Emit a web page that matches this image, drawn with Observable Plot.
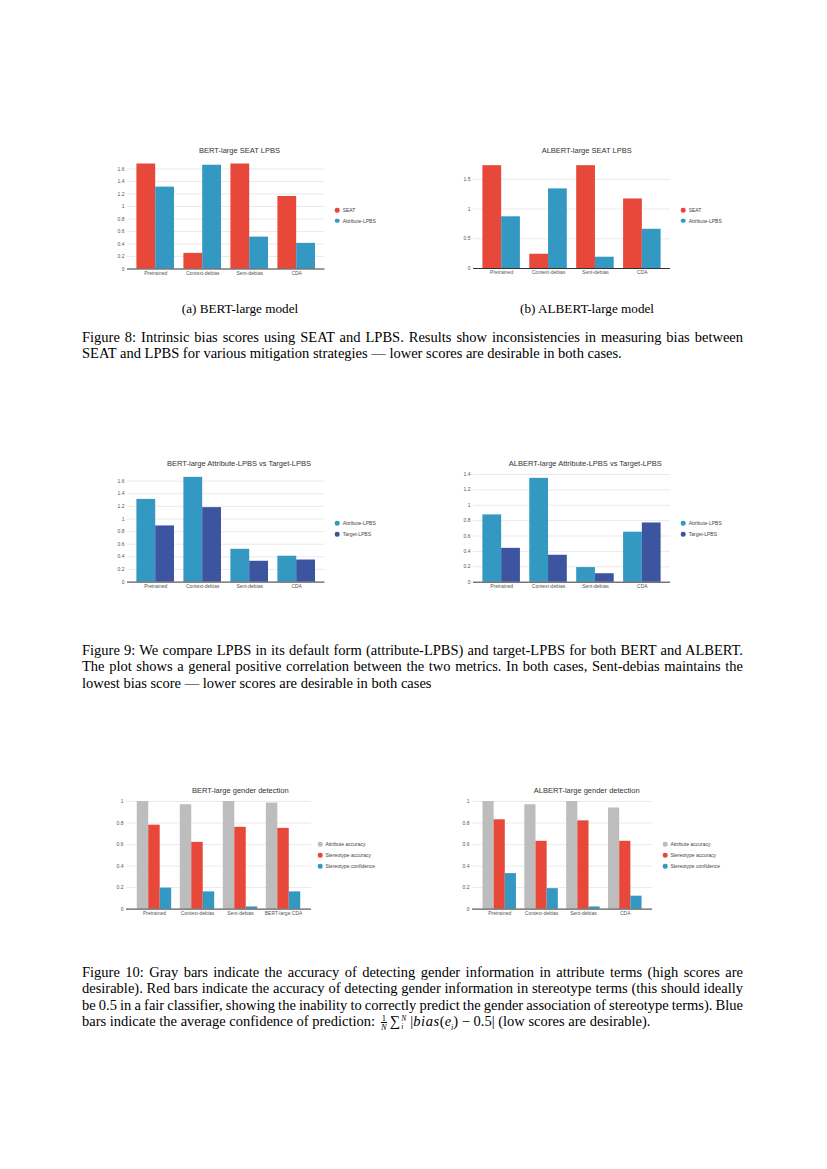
<!DOCTYPE html>
<html><head><meta charset="utf-8">
<script src="https://cdn.jsdelivr.net/npm/d3@7"></script>
<script src="https://cdn.jsdelivr.net/npm/@observablehq/plot@0.6"></script>
<style>
html,body{margin:0;padding:0;background:#fff;}
#page{position:relative;width:827px;height:1169px;overflow:hidden;background:#fff;}
.layer{position:absolute;}
.title{position:absolute;font-family:"Liberation Sans",Arial,sans-serif;font-size:7.5px;color:#333;white-space:nowrap;transform:translate(-50%,-50%);}
.leg{position:absolute;font-family:"Liberation Sans",Arial,sans-serif;font-size:5px;color:#444;white-space:nowrap;line-height:6px;transform:translateY(-50%);}
.dot{position:absolute;width:4.6px;height:4.6px;border-radius:50%;transform:translate(-50%,-50%);}
.sub{position:absolute;font-family:"Liberation Serif","Times New Roman",serif;font-size:13.2px;color:#000;white-space:nowrap;transform:translate(-50%,-50%);}
.cap{position:absolute;left:82px;width:661px;font-family:"Liberation Serif","Times New Roman",serif;font-size:14.5px;color:#000;}
.cap div{height:16.4px;line-height:16.4px;white-space:nowrap;}
.cap div.j{text-align:justify;text-align-last:justify;}
.frac{display:inline-block;vertical-align:middle;text-align:center;font-size:8.5px;line-height:8.5px;margin:0 3px 0 2px;}
.frac span{display:block;}
.frac .num{border-bottom:0.6px solid #000;padding:0 1px;}
.sumsc{display:inline-block;vertical-align:middle;font-size:7.5px;line-height:7.5px;margin-left:1px;margin-right:4px;}
.sumsc span{display:block;}
.m{font-style:italic;letter-spacing:0.6px;}
</style>
</head><body>
<div id="page"></div>
<script>
// ---------------- data ----------------
const methods = ["Pretrained", "Context-debias", "Sent-debias", "CDA"];
const methodsBertGender = ["Pretrained", "Context-debias", "Sent-debias", "BERT-large CDA"];

const seatSeries = ["SEAT", "Attribute-LPBS"];
const lpbsSeries = ["Attribute-LPBS", "Target-LPBS"];
const genderSeries = ["Attribute accuracy", "Stereotype accuracy", "Stereotype confidence"];

// Figure 8
const bertSeat = [1.68, 0.25, 1.68, 1.16];
const bertAttributeLpbs = [1.31, 1.66, 0.51, 0.41];
const albertSeat = [1.73, 0.24, 1.73, 1.17];
const albertAttributeLpbs = [0.87, 1.34, 0.19, 0.66];
// Figure 9
const bertAttributeLpbs9 = [1.31, 1.66, 0.52, 0.41];
const bertTargetLpbs = [0.89, 1.18, 0.33, 0.35];
const albertAttributeLpbs9 = [0.875, 1.35, 0.19, 0.65];
const albertTargetLpbs = [0.44, 0.35, 0.11, 0.77];
// Figure 10
const bertAttributeAcc = [1.0, 0.97, 1.0, 0.985];
const bertStereotypeAcc = [0.78, 0.62, 0.76, 0.75];
const bertStereotypeConf = [0.195, 0.16, 0.02, 0.16];
const albertAttributeAcc = [1.0, 0.97, 1.0, 0.94];
const albertStereotypeAcc = [0.83, 0.63, 0.82, 0.63];
const albertStereotypeConf = [0.33, 0.19, 0.02, 0.12];

// ticks
const ticks16 = [0, 0.2, 0.4, 0.6, 0.8, 1, 1.2, 1.4, 1.6];
const ticks15 = [0, 0.5, 1, 1.5];
const ticks14 = [0, 0.2, 0.4, 0.6, 0.8, 1, 1.2, 1.4];
const ticks10 = [0, 0.2, 0.4, 0.6, 0.8, 1];

// colours
const RED = "#e8483a", BLUE = "#3399c2", NAVY = "#3d55a0", GRAY = "#bdbdbd";

// ---------------- drawing ----------------
const page = document.getElementById("page");
const fmt = d => String(+d.toFixed(2));

function addEl(cls, css, html) {
  const e = document.createElement("div");
  e.className = cls;
  Object.assign(e.style, css);
  if (html !== undefined) e.innerHTML = html;
  page.appendChild(e);
  return e;
}

function drawChart(cfg) {
  const mL = 24, mR = 4, mT = 2, mB = 14;
  const width = cfg.x1 - cfg.x0 + mL + mR;
  const height = cfg.yBase - cfg.yTop + mT + mB;
  const left = cfg.x0 - mL, top = cfg.yTop - mT;
  const common = {
    width, height, marginLeft: mL, marginRight: mR, marginTop: mT, marginBottom: mB,
    style: {background: "transparent", overflow: "visible", fontFamily: "Liberation Sans, Arial, sans-serif", fontSize: "5px", color: "#555"}
  };
  const place = (svg) => {
    const d = document.createElement("div");
    d.className = "layer";
    d.style.left = left + "px"; d.style.top = top + "px";
    d.appendChild(svg);
    page.appendChild(d);
  };
  // background: grid + y labels
  place(Plot.plot({
    ...common,
    y: {domain: cfg.yDomain, label: null},
    marks: [
      Plot.ruleY(cfg.ticks.filter(t => t > 0), {stroke: "#e4e4e4", strokeWidth: 0.8}),
      Plot.axisY(cfg.ticks, {tickSize: 0, tickPadding: 3, tickFormat: fmt, label: null, fill: "#555", fontSize: 5})
    ]
  }));
  // bars
  const data = cfg.categories.flatMap((c, i) => cfg.series.map((s, j) => ({cat: c, ser: s, val: cfg.values[j][i]})));
  place(Plot.plot({
    ...common,
    fx: {domain: cfg.categories, paddingInner: cfg.pi, paddingOuter: cfg.po, round: false, label: null, axis: "bottom", tickSize: 0, tickPadding: 2},
    x: {domain: cfg.series, padding: 0, round: false, axis: null},
    y: {domain: cfg.yDomain, axis: null},
    color: {domain: cfg.series, range: cfg.colors},
    marks: [
      Plot.barY(data, {fx: "cat", x: "ser", y: "val", fill: "ser"})
    ]
  }));
  // baseline
  place(Plot.plot({
    ...common,
    y: {domain: cfg.yDomain, axis: null},
    marks: [Plot.ruleY([0], {stroke: "#333", strokeWidth: 1})]
  }));
  // title
  addEl("title", {left: cfg.title[1] + "px", top: cfg.title[2] + "px"}, cfg.title[0]);
  // legend
  cfg.series.forEach((s, j) => {
    const y = cfg.legend[1] + j * cfg.legend[2];
    addEl("dot", {left: cfg.legend[0] + "px", top: y + "px", background: cfg.colors[j]});
    addEl("leg", {left: (cfg.legend[0] + 5.4) + "px", top: y + "px"}, s);
  });
}

drawChart({
  categories: methods, series: seatSeries, colors: [RED, BLUE], values: [bertSeat, bertAttributeLpbs],
  x0: 126.6, x1: 324, yBase: 268.3, yTop: 155.8, yDomain: [0, 1.8], ticks: ticks16, pi: 0.2, po: 0.2,
  title: ["BERT-large SEAT LPBS", 239.5, 150], legend: [337.3, 210, 10.7]
});
drawChart({
  categories: methods, series: seatSeries, colors: [RED, BLUE], values: [albertSeat, albertAttributeLpbs],
  x0: 473.3, x1: 670.3, yBase: 268.3, yTop: 164.3, yDomain: [0, 1.75], ticks: ticks15, pi: 0.2, po: 0.2,
  title: ["ALBERT-large SEAT LPBS", 586.7, 150], legend: [683.3, 210, 10.7]
});
drawChart({
  categories: methods, series: lpbsSeries, colors: [BLUE, NAVY], values: [bertAttributeLpbs9, bertTargetLpbs],
  x0: 126.6, x1: 324, yBase: 582, yTop: 468.4, yDomain: [0, 1.8], ticks: ticks16, pi: 0.2, po: 0.2,
  title: ["BERT-large Attribute-LPBS vs Target-LPBS", 239, 463.3], legend: [337.3, 523.3, 10.7]
});
drawChart({
  categories: methods, series: lpbsSeries, colors: [BLUE, NAVY], values: [albertAttributeLpbs9, albertTargetLpbs],
  x0: 473.3, x1: 670.3, yBase: 582, yTop: 474.3, yDomain: [0, 1.4], ticks: ticks14, pi: 0.2, po: 0.2,
  title: ["ALBERT-large Attribute-LPBS vs Target-LPBS", 585.3, 463.3], legend: [683.3, 523.3, 10.7]
});
drawChart({
  categories: methodsBertGender, series: genderSeries, colors: [GRAY, RED, BLUE],
  values: [bertAttributeAcc, bertStereotypeAcc, bertStereotypeConf],
  x0: 125.5, x1: 310.5, yBase: 908.3, yTop: 800.7, yDomain: [0, 1], ticks: ticks10, pi: 0.2, po: 0.25,
  title: ["BERT-large gender detection", 240.3, 790], legend: [320, 844, 11]
});
drawChart({
  categories: methods, series: genderSeries, colors: [GRAY, RED, BLUE],
  values: [albertAttributeAcc, albertStereotypeAcc, albertStereotypeConf],
  x0: 472, x1: 652, yBase: 908.3, yTop: 800.7, yDomain: [0, 1], ticks: ticks10, pi: 0.2, po: 0.25,
  title: ["ALBERT-large gender detection", 586.7, 790], legend: [665, 844, 11]
});

// ---------------- captions ----------------
addEl("sub", {left: "240px", top: "309px"}, "(a) BERT-large model");
addEl("sub", {left: "587px", top: "309px"}, "(b) ALBERT-large model");

function caption(top, lines) {
  const c = addEl("cap", {top: top + "px"});
  lines.forEach((l, i) => {
    const d = document.createElement("div");
    if (i < lines.length - 1) d.className = "j";
    d.innerHTML = l;
    c.appendChild(d);
    // shrink inter-word spacing if a justified line is naturally too long
    if (i < lines.length - 1) {
      let ws = 0;
      const probe = document.createElement("span");
      probe.innerHTML = l;
      probe.style.whiteSpace = "nowrap";
      d.innerHTML = ""; d.appendChild(probe);
      while (probe.getBoundingClientRect().width > 660 && ws > -3) {
        ws -= 0.1; probe.style.wordSpacing = ws + "px";
      }
      d.innerHTML = l;
      d.style.wordSpacing = ws + "px";
    }
  });
}
caption(328.8, [
  "Figure 8: Intrinsic bias scores using SEAT and LPBS. Results show inconsistencies in measuring bias between",
  "SEAT and LPBS for various mitigation strategies — lower scores are desirable in both cases."
]);
caption(641.8, [
  "Figure 9: We compare LPBS in its default form (attribute-LPBS) and target-LPBS for both BERT and ALBERT.",
  "The plot shows a general positive correlation between the two metrics. In both cases, Sent-debias maintains the",
  "lowest bias score — lower scores are desirable in both cases"
]);
caption(963.8, [
  "Figure 10: Gray bars indicate the accuracy of detecting gender information in attribute terms (high scores are",
  "desirable). Red bars indicate the accuracy of detecting gender information in stereotype terms (this should ideally",
  "be 0.5 in a fair classifier, showing the inability to correctly predict the gender association of stereotype terms). Blue",
  'bars indicate the average confidence of prediction: <span class="frac"><span class="num">1</span><span class="den"><i>N</i></span></span>∑<span class="sumsc"><span><i>N</i></span><span><i>i</i></span></span>|<span class="m">bias</span>(<i>e</i><sub style="font-size:8px"><i>i</i></sub>) &minus; 0.5| (low scores are desirable).'
]);
</script>
</body></html>
